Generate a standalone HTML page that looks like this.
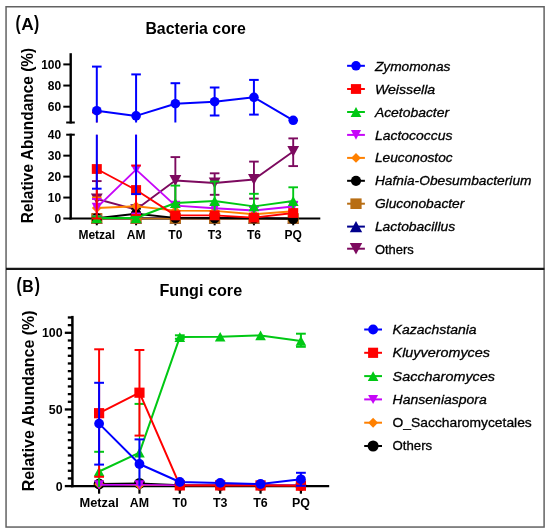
<!DOCTYPE html>
<html lang="en">
<head>
<meta charset="utf-8">
<title>Bacteria core / Fungi core relative abundance</title>
<style>
html,body{margin:0;padding:0;background:#fff;}
body{width:550px;height:532px;overflow:hidden;}
svg{display:block;}
text{font-family:"Liberation Sans",sans-serif;}
</style>
</head>
<body>
<svg width="550" height="532" viewBox="0 0 550 532" font-family='&quot;Liberation Sans&quot;, sans-serif'>
<rect x="0" y="0" width="550" height="532" fill="#fff"/>
<rect x="6.05" y="6.75" width="538.05" height="520.3" fill="none" stroke="#626262" stroke-width="1.5"/>
<line x1="6" y1="268.85" x2="544.4" y2="268.85" stroke="#161616" stroke-width="2.1" stroke-linecap="butt"/>
<text y="29.7" font-weight="bold" fill="#000"><tspan x="15.5" font-size="19.3" textLength="5.2" lengthAdjust="spacingAndGlyphs">(</tspan><tspan x="21.2" font-size="17.3">A</tspan><tspan x="34.1" font-size="19.3" textLength="5.2" lengthAdjust="spacingAndGlyphs">)</tspan></text>
<text x="195.6" y="33.6" font-size="16" font-weight="bold" font-style="normal" text-anchor="middle" fill="#000" textLength="100.4" lengthAdjust="spacingAndGlyphs">Bacteria core</text>
<text x="33.3" y="135.5" font-size="16.2" font-weight="bold" font-style="normal" text-anchor="middle" fill="#000" textLength="175.5" lengthAdjust="spacingAndGlyphs" transform="rotate(-90 33.3 135.5)">Relative Abundance (%)</text>
<line x1="70.7" y1="53.2" x2="70.7" y2="123.5" stroke="#000" stroke-width="2.4" stroke-linecap="butt"/>
<line x1="66.2" y1="122.5" x2="74.8" y2="122.5" stroke="#000" stroke-width="2" stroke-linecap="butt"/>
<line x1="70.7" y1="133.7" x2="70.7" y2="219.55" stroke="#000" stroke-width="2.4" stroke-linecap="butt"/>
<line x1="66.2" y1="134.7" x2="74.8" y2="134.7" stroke="#000" stroke-width="2" stroke-linecap="butt"/>
<line x1="63.3" y1="64.4" x2="70.7" y2="64.4" stroke="#000" stroke-width="2" stroke-linecap="butt"/>
<line x1="63.3" y1="85.55" x2="70.7" y2="85.55" stroke="#000" stroke-width="2" stroke-linecap="butt"/>
<line x1="63.3" y1="106.7" x2="70.7" y2="106.7" stroke="#000" stroke-width="2" stroke-linecap="butt"/>
<line x1="63.3" y1="155.65" x2="70.7" y2="155.65" stroke="#000" stroke-width="2" stroke-linecap="butt"/>
<line x1="63.3" y1="176.6" x2="70.7" y2="176.6" stroke="#000" stroke-width="2" stroke-linecap="butt"/>
<line x1="63.3" y1="197.55" x2="70.7" y2="197.55" stroke="#000" stroke-width="2" stroke-linecap="butt"/>
<line x1="63.3" y1="218.5" x2="70.7" y2="218.5" stroke="#000" stroke-width="2" stroke-linecap="butt"/>
<line x1="69.5" y1="218.5" x2="320.3" y2="218.5" stroke="#000" stroke-width="2.1" stroke-linecap="butt"/>
<line x1="96.8" y1="218.5" x2="96.8" y2="225.3" stroke="#000" stroke-width="2" stroke-linecap="butt"/>
<line x1="136.08" y1="218.5" x2="136.08" y2="225.3" stroke="#000" stroke-width="2" stroke-linecap="butt"/>
<line x1="175.36" y1="218.5" x2="175.36" y2="225.3" stroke="#000" stroke-width="2" stroke-linecap="butt"/>
<line x1="214.64" y1="218.5" x2="214.64" y2="225.3" stroke="#000" stroke-width="2" stroke-linecap="butt"/>
<line x1="253.92" y1="218.5" x2="253.92" y2="225.3" stroke="#000" stroke-width="2" stroke-linecap="butt"/>
<line x1="293.2" y1="218.5" x2="293.2" y2="225.3" stroke="#000" stroke-width="2" stroke-linecap="butt"/>
<g>
<line x1="96.8" y1="199" x2="96.8" y2="181.1" stroke="#7D0A5F" stroke-width="1.9" stroke-linecap="butt"/>
<line x1="92" y1="181.1" x2="101.6" y2="181.1" stroke="#7D0A5F" stroke-width="1.9" stroke-linecap="butt"/>
<line x1="96.8" y1="199" x2="96.8" y2="214" stroke="#7D0A5F" stroke-width="1.9" stroke-linecap="butt"/>
<line x1="92" y1="214" x2="101.6" y2="214" stroke="#7D0A5F" stroke-width="1.9" stroke-linecap="butt"/>
<line x1="136.08" y1="209.6" x2="136.08" y2="205.5" stroke="#7D0A5F" stroke-width="1.9" stroke-linecap="butt"/>
<line x1="131.28" y1="205.5" x2="140.88" y2="205.5" stroke="#7D0A5F" stroke-width="1.9" stroke-linecap="butt"/>
<line x1="136.08" y1="209.6" x2="136.08" y2="213.5" stroke="#7D0A5F" stroke-width="1.9" stroke-linecap="butt"/>
<line x1="131.28" y1="213.5" x2="140.88" y2="213.5" stroke="#7D0A5F" stroke-width="1.9" stroke-linecap="butt"/>
<line x1="175.36" y1="180.5" x2="175.36" y2="157.1" stroke="#7D0A5F" stroke-width="1.9" stroke-linecap="butt"/>
<line x1="170.56" y1="157.1" x2="180.16" y2="157.1" stroke="#7D0A5F" stroke-width="1.9" stroke-linecap="butt"/>
<line x1="175.36" y1="180.5" x2="175.36" y2="204.5" stroke="#7D0A5F" stroke-width="1.9" stroke-linecap="butt"/>
<line x1="170.56" y1="204.5" x2="180.16" y2="204.5" stroke="#7D0A5F" stroke-width="1.9" stroke-linecap="butt"/>
<line x1="214.64" y1="183" x2="214.64" y2="173.3" stroke="#7D0A5F" stroke-width="1.9" stroke-linecap="butt"/>
<line x1="209.84" y1="173.3" x2="219.44" y2="173.3" stroke="#7D0A5F" stroke-width="1.9" stroke-linecap="butt"/>
<line x1="214.64" y1="183" x2="214.64" y2="194.8" stroke="#7D0A5F" stroke-width="1.9" stroke-linecap="butt"/>
<line x1="209.84" y1="194.8" x2="219.44" y2="194.8" stroke="#7D0A5F" stroke-width="1.9" stroke-linecap="butt"/>
<line x1="253.92" y1="179.5" x2="253.92" y2="161.6" stroke="#7D0A5F" stroke-width="1.9" stroke-linecap="butt"/>
<line x1="249.12" y1="161.6" x2="258.72" y2="161.6" stroke="#7D0A5F" stroke-width="1.9" stroke-linecap="butt"/>
<line x1="253.92" y1="179.5" x2="253.92" y2="198.6" stroke="#7D0A5F" stroke-width="1.9" stroke-linecap="butt"/>
<line x1="249.12" y1="198.6" x2="258.72" y2="198.6" stroke="#7D0A5F" stroke-width="1.9" stroke-linecap="butt"/>
<line x1="293.2" y1="151.4" x2="293.2" y2="138.4" stroke="#7D0A5F" stroke-width="1.9" stroke-linecap="butt"/>
<line x1="288.4" y1="138.4" x2="298" y2="138.4" stroke="#7D0A5F" stroke-width="1.9" stroke-linecap="butt"/>
<line x1="293.2" y1="151.4" x2="293.2" y2="166.1" stroke="#7D0A5F" stroke-width="1.9" stroke-linecap="butt"/>
<line x1="288.4" y1="166.1" x2="298" y2="166.1" stroke="#7D0A5F" stroke-width="1.9" stroke-linecap="butt"/>
<polyline points="96.8,199 136.08,209.6 175.36,180.5 214.64,183 253.92,179.5 293.2,151.4" fill="none" stroke="#7D0A5F" stroke-width="1.9" stroke-linejoin="round"/>
<polygon points="90.9,193.6 102.7,193.6 96.8,204.4" fill="#7D0A5F"/>
<polygon points="130.18,204.2 141.98,204.2 136.08,215" fill="#7D0A5F"/>
<polygon points="169.46,175.1 181.26,175.1 175.36,185.9" fill="#7D0A5F"/>
<polygon points="208.74,177.6 220.54,177.6 214.64,188.4" fill="#7D0A5F"/>
<polygon points="248.02,174.1 259.82,174.1 253.92,184.9" fill="#7D0A5F"/>
<polygon points="287.3,146 299.1,146 293.2,156.8" fill="#7D0A5F"/>
</g>
<g>
<polyline points="96.8,218.3 136.08,218.3 175.36,218.3 214.64,218.3 253.92,218.3 293.2,218.3" fill="none" stroke="#00008C" stroke-width="1.9" stroke-linejoin="round"/>
<polygon points="96.8,212.9 102.6,223.7 91,223.7" fill="#00008C"/>
<polygon points="136.08,212.9 141.88,223.7 130.28,223.7" fill="#00008C"/>
<polygon points="175.36,212.9 181.16,223.7 169.56,223.7" fill="#00008C"/>
<polygon points="214.64,212.9 220.44,223.7 208.84,223.7" fill="#00008C"/>
<polygon points="253.92,212.9 259.72,223.7 248.12,223.7" fill="#00008C"/>
<polygon points="293.2,212.9 299,223.7 287.4,223.7" fill="#00008C"/>
</g>
<g>
<polyline points="96.8,218.5 136.08,218.5 175.36,218.5 214.64,218.5 253.92,218.5 293.2,218.5" fill="none" stroke="#B86E14" stroke-width="1.9" stroke-linejoin="round"/>
<rect x="91.2" y="213.2" width="11.2" height="10.6" fill="#B86E14"/>
<rect x="130.48" y="213.2" width="11.2" height="10.6" fill="#B86E14"/>
<rect x="169.76" y="213.2" width="11.2" height="10.6" fill="#B86E14"/>
<rect x="209.04" y="213.2" width="11.2" height="10.6" fill="#B86E14"/>
<rect x="248.32" y="213.2" width="11.2" height="10.6" fill="#B86E14"/>
<rect x="287.6" y="213.2" width="11.2" height="10.6" fill="#B86E14"/>
</g>
<g>
<line x1="136.08" y1="213.8" x2="136.08" y2="208.7" stroke="#000000" stroke-width="1.9" stroke-linecap="butt"/>
<line x1="131.28" y1="208.7" x2="140.88" y2="208.7" stroke="#000000" stroke-width="1.9" stroke-linecap="butt"/>
<polyline points="96.8,218.3 136.08,213.8 175.36,217.9 214.64,218 253.92,218.3 293.2,218.8" fill="none" stroke="#000000" stroke-width="1.9" stroke-linejoin="round"/>
<circle cx="96.8" cy="218.3" r="5.2" fill="#000000"/>
<circle cx="136.08" cy="213.8" r="5.2" fill="#000000"/>
<circle cx="175.36" cy="217.9" r="5.2" fill="#000000"/>
<circle cx="214.64" cy="218" r="5.2" fill="#000000"/>
<circle cx="253.92" cy="218.3" r="5.2" fill="#000000"/>
<circle cx="293.2" cy="218.8" r="5.2" fill="#000000"/>
</g>
<g>
<line x1="96.8" y1="208" x2="96.8" y2="197.5" stroke="#FF8000" stroke-width="1.9" stroke-linecap="butt"/>
<line x1="92" y1="197.5" x2="101.6" y2="197.5" stroke="#FF8000" stroke-width="1.9" stroke-linecap="butt"/>
<line x1="96.8" y1="208" x2="96.8" y2="216.5" stroke="#FF8000" stroke-width="1.9" stroke-linecap="butt"/>
<line x1="92" y1="216.5" x2="101.6" y2="216.5" stroke="#FF8000" stroke-width="1.9" stroke-linecap="butt"/>
<polyline points="96.8,208 136.08,206.2 175.36,210.6 214.64,210.9 253.92,214.2 293.2,211.3" fill="none" stroke="#FF8000" stroke-width="1.9" stroke-linejoin="round"/>
<polygon points="96.8,203.1 101.7,208 96.8,212.9 91.9,208" fill="#FF8000"/>
<polygon points="136.08,201.3 140.98,206.2 136.08,211.1 131.18,206.2" fill="#FF8000"/>
<polygon points="175.36,205.7 180.26,210.6 175.36,215.5 170.46,210.6" fill="#FF8000"/>
<polygon points="214.64,206 219.54,210.9 214.64,215.8 209.74,210.9" fill="#FF8000"/>
<polygon points="253.92,209.3 258.82,214.2 253.92,219.1 249.02,214.2" fill="#FF8000"/>
<polygon points="293.2,206.4 298.1,211.3 293.2,216.2 288.3,211.3" fill="#FF8000"/>
</g>
<g>
<line x1="96.8" y1="207.6" x2="96.8" y2="199" stroke="#C606F8" stroke-width="1.9" stroke-linecap="butt"/>
<line x1="92" y1="199" x2="101.6" y2="199" stroke="#C606F8" stroke-width="1.9" stroke-linecap="butt"/>
<line x1="96.8" y1="207.6" x2="96.8" y2="216" stroke="#C606F8" stroke-width="1.9" stroke-linecap="butt"/>
<line x1="92" y1="216" x2="101.6" y2="216" stroke="#C606F8" stroke-width="1.9" stroke-linecap="butt"/>
<line x1="136.08" y1="169.6" x2="136.08" y2="134.7" stroke="#C606F8" stroke-width="1.9" stroke-linecap="butt"/>
<line x1="136.08" y1="169.6" x2="136.08" y2="213.5" stroke="#C606F8" stroke-width="1.9" stroke-linecap="butt"/>
<line x1="131.28" y1="213.5" x2="140.88" y2="213.5" stroke="#C606F8" stroke-width="1.9" stroke-linecap="butt"/>
<line x1="253.92" y1="210.5" x2="253.92" y2="207" stroke="#C606F8" stroke-width="1.9" stroke-linecap="butt"/>
<line x1="249.12" y1="207" x2="258.72" y2="207" stroke="#C606F8" stroke-width="1.9" stroke-linecap="butt"/>
<line x1="293.2" y1="206.5" x2="293.2" y2="201.8" stroke="#C606F8" stroke-width="1.9" stroke-linecap="butt"/>
<line x1="288.4" y1="201.8" x2="298" y2="201.8" stroke="#C606F8" stroke-width="1.9" stroke-linecap="butt"/>
<line x1="293.2" y1="206.5" x2="293.2" y2="211" stroke="#C606F8" stroke-width="1.9" stroke-linecap="butt"/>
<line x1="288.4" y1="211" x2="298" y2="211" stroke="#C606F8" stroke-width="1.9" stroke-linecap="butt"/>
<polyline points="96.8,207.6 136.08,169.6 175.36,205.6 214.64,208.3 253.92,210.5 293.2,206.5" fill="none" stroke="#C606F8" stroke-width="1.9" stroke-linejoin="round"/>
<polygon points="91.7,202.7 101.9,202.7 96.8,212.5" fill="#C606F8"/>
<polygon points="130.98,164.7 141.18,164.7 136.08,174.5" fill="#C606F8"/>
<polygon points="170.26,200.7 180.46,200.7 175.36,210.5" fill="#C606F8"/>
<polygon points="209.54,203.4 219.74,203.4 214.64,213.2" fill="#C606F8"/>
<polygon points="248.82,205.6 259.02,205.6 253.92,215.4" fill="#C606F8"/>
<polygon points="288.1,201.6 298.3,201.6 293.2,211.4" fill="#C606F8"/>
</g>
<g>
<line x1="96.8" y1="218" x2="96.8" y2="216.3" stroke="#00C814" stroke-width="1.9" stroke-linecap="butt"/>
<line x1="92" y1="216.3" x2="101.6" y2="216.3" stroke="#00C814" stroke-width="1.9" stroke-linecap="butt"/>
<line x1="136.08" y1="218" x2="136.08" y2="216.6" stroke="#00C814" stroke-width="1.9" stroke-linecap="butt"/>
<line x1="131.28" y1="216.6" x2="140.88" y2="216.6" stroke="#00C814" stroke-width="1.9" stroke-linecap="butt"/>
<line x1="175.36" y1="203" x2="175.36" y2="185.6" stroke="#00C814" stroke-width="1.9" stroke-linecap="butt"/>
<line x1="170.56" y1="185.6" x2="180.16" y2="185.6" stroke="#00C814" stroke-width="1.9" stroke-linecap="butt"/>
<line x1="175.36" y1="203" x2="175.36" y2="218.5" stroke="#00C814" stroke-width="1.9" stroke-linecap="butt"/>
<line x1="214.64" y1="201" x2="214.64" y2="181.5" stroke="#00C814" stroke-width="1.9" stroke-linecap="butt"/>
<line x1="209.84" y1="181.5" x2="219.44" y2="181.5" stroke="#00C814" stroke-width="1.9" stroke-linecap="butt"/>
<line x1="214.64" y1="201" x2="214.64" y2="218.5" stroke="#00C814" stroke-width="1.9" stroke-linecap="butt"/>
<line x1="253.92" y1="206.4" x2="253.92" y2="193.8" stroke="#00C814" stroke-width="1.9" stroke-linecap="butt"/>
<line x1="249.12" y1="193.8" x2="258.72" y2="193.8" stroke="#00C814" stroke-width="1.9" stroke-linecap="butt"/>
<line x1="253.92" y1="206.4" x2="253.92" y2="218.5" stroke="#00C814" stroke-width="1.9" stroke-linecap="butt"/>
<line x1="293.2" y1="201" x2="293.2" y2="187.3" stroke="#00C814" stroke-width="1.9" stroke-linecap="butt"/>
<line x1="288.4" y1="187.3" x2="298" y2="187.3" stroke="#00C814" stroke-width="1.9" stroke-linecap="butt"/>
<line x1="293.2" y1="201" x2="293.2" y2="215" stroke="#00C814" stroke-width="1.9" stroke-linecap="butt"/>
<line x1="288.4" y1="215" x2="298" y2="215" stroke="#00C814" stroke-width="1.9" stroke-linecap="butt"/>
<polyline points="96.8,218 136.08,218 175.36,203 214.64,201 253.92,206.4 293.2,201" fill="none" stroke="#00C814" stroke-width="1.9" stroke-linejoin="round"/>
<polygon points="96.8,213.1 102.2,222.9 91.4,222.9" fill="#00C814"/>
<polygon points="136.08,213.1 141.48,222.9 130.68,222.9" fill="#00C814"/>
<polygon points="175.36,198.1 180.76,207.9 169.96,207.9" fill="#00C814"/>
<polygon points="214.64,196.1 220.04,205.9 209.24,205.9" fill="#00C814"/>
<polygon points="253.92,201.5 259.32,211.3 248.52,211.3" fill="#00C814"/>
<polygon points="293.2,196.1 298.6,205.9 287.8,205.9" fill="#00C814"/>
</g>
<g>
<line x1="96.8" y1="169" x2="96.8" y2="134.7" stroke="#FF0000" stroke-width="1.3" stroke-linecap="butt"/>
<line x1="96.8" y1="122.5" x2="96.8" y2="112.4" stroke="#FF0000" stroke-width="1.3" stroke-linecap="butt"/>
<line x1="92" y1="112.4" x2="101.6" y2="112.4" stroke="#FF0000" stroke-width="1.9" stroke-linecap="butt"/>
<line x1="96.8" y1="169" x2="96.8" y2="218.5" stroke="#FF0000" stroke-width="1.9" stroke-linecap="butt"/>
<line x1="92" y1="218.5" x2="101.6" y2="218.5" stroke="#FF0000" stroke-width="1.9" stroke-linecap="butt"/>
<line x1="136.08" y1="190" x2="136.08" y2="165.6" stroke="#FF0000" stroke-width="1.9" stroke-linecap="butt"/>
<line x1="131.28" y1="165.6" x2="140.88" y2="165.6" stroke="#FF0000" stroke-width="1.9" stroke-linecap="butt"/>
<line x1="136.08" y1="190" x2="136.08" y2="215" stroke="#FF0000" stroke-width="1.9" stroke-linecap="butt"/>
<line x1="131.28" y1="215" x2="140.88" y2="215" stroke="#FF0000" stroke-width="1.9" stroke-linecap="butt"/>
<polyline points="96.8,169 136.08,190 175.36,215.4 214.64,215.4 253.92,217.6 293.2,213" fill="none" stroke="#FF0000" stroke-width="1.9" stroke-linejoin="round"/>
<rect x="91.8" y="164.1" width="10" height="9.8" fill="#FF0000"/>
<rect x="131.08" y="185.1" width="10" height="9.8" fill="#FF0000"/>
<rect x="170.36" y="210.5" width="10" height="9.8" fill="#FF0000"/>
<rect x="209.64" y="210.5" width="10" height="9.8" fill="#FF0000"/>
<rect x="248.92" y="212.7" width="10" height="9.8" fill="#FF0000"/>
<rect x="288.2" y="208.1" width="10" height="9.8" fill="#FF0000"/>
</g>
<g>
<line x1="96.8" y1="110.7" x2="96.8" y2="66.6" stroke="#0000FF" stroke-width="2" stroke-linecap="butt"/>
<line x1="92" y1="66.6" x2="101.6" y2="66.6" stroke="#0000FF" stroke-width="2" stroke-linecap="butt"/>
<line x1="96.8" y1="110.7" x2="96.8" y2="122.5" stroke="#0000FF" stroke-width="2" stroke-linecap="butt"/>
<line x1="96.8" y1="134.7" x2="96.8" y2="188.7" stroke="#0000FF" stroke-width="2" stroke-linecap="butt"/>
<line x1="92" y1="188.7" x2="101.6" y2="188.7" stroke="#0000FF" stroke-width="2" stroke-linecap="butt"/>
<line x1="136.08" y1="115.9" x2="136.08" y2="74.4" stroke="#0000FF" stroke-width="2" stroke-linecap="butt"/>
<line x1="131.28" y1="74.4" x2="140.88" y2="74.4" stroke="#0000FF" stroke-width="2" stroke-linecap="butt"/>
<line x1="136.08" y1="115.9" x2="136.08" y2="122.5" stroke="#0000FF" stroke-width="2" stroke-linecap="butt"/>
<line x1="136.08" y1="134.7" x2="136.08" y2="194.1" stroke="#0000FF" stroke-width="2" stroke-linecap="butt"/>
<line x1="131.28" y1="194.1" x2="140.88" y2="194.1" stroke="#0000FF" stroke-width="2" stroke-linecap="butt"/>
<line x1="175.36" y1="103.7" x2="175.36" y2="83.2" stroke="#0000FF" stroke-width="2" stroke-linecap="butt"/>
<line x1="170.56" y1="83.2" x2="180.16" y2="83.2" stroke="#0000FF" stroke-width="2" stroke-linecap="butt"/>
<line x1="175.36" y1="103.7" x2="175.36" y2="122.5" stroke="#0000FF" stroke-width="2" stroke-linecap="butt"/>
<line x1="214.64" y1="101.7" x2="214.64" y2="87.5" stroke="#0000FF" stroke-width="2" stroke-linecap="butt"/>
<line x1="209.84" y1="87.5" x2="219.44" y2="87.5" stroke="#0000FF" stroke-width="2" stroke-linecap="butt"/>
<line x1="214.64" y1="101.7" x2="214.64" y2="115.5" stroke="#0000FF" stroke-width="2" stroke-linecap="butt"/>
<line x1="209.84" y1="115.5" x2="219.44" y2="115.5" stroke="#0000FF" stroke-width="2" stroke-linecap="butt"/>
<line x1="253.92" y1="97.3" x2="253.92" y2="79.9" stroke="#0000FF" stroke-width="2" stroke-linecap="butt"/>
<line x1="249.12" y1="79.9" x2="258.72" y2="79.9" stroke="#0000FF" stroke-width="2" stroke-linecap="butt"/>
<line x1="253.92" y1="97.3" x2="253.92" y2="114.6" stroke="#0000FF" stroke-width="2" stroke-linecap="butt"/>
<line x1="249.12" y1="114.6" x2="258.72" y2="114.6" stroke="#0000FF" stroke-width="2" stroke-linecap="butt"/>
<polyline points="96.8,110.7 136.08,115.9 175.36,103.7 214.64,101.7 253.92,97.3 293.2,120.3" fill="none" stroke="#0000FF" stroke-width="2" stroke-linejoin="round"/>
<circle cx="96.8" cy="110.7" r="4.8" fill="#0000FF"/>
<circle cx="136.08" cy="115.9" r="4.8" fill="#0000FF"/>
<circle cx="175.36" cy="103.7" r="4.8" fill="#0000FF"/>
<circle cx="214.64" cy="101.7" r="4.8" fill="#0000FF"/>
<circle cx="253.92" cy="97.3" r="4.8" fill="#0000FF"/>
<circle cx="293.2" cy="120.3" r="4.8" fill="#0000FF"/>
</g>
<text x="61.2" y="68.7" font-size="12" font-weight="bold" font-style="normal" text-anchor="end" fill="#000">100</text>
<text x="61.2" y="89.85" font-size="12" font-weight="bold" font-style="normal" text-anchor="end" fill="#000">80</text>
<text x="61.2" y="111" font-size="12" font-weight="bold" font-style="normal" text-anchor="end" fill="#000">60</text>
<text x="61.2" y="139" font-size="12" font-weight="bold" font-style="normal" text-anchor="end" fill="#000">40</text>
<text x="61.2" y="159.95" font-size="12" font-weight="bold" font-style="normal" text-anchor="end" fill="#000">30</text>
<text x="61.2" y="180.9" font-size="12" font-weight="bold" font-style="normal" text-anchor="end" fill="#000">20</text>
<text x="61.2" y="201.85" font-size="12" font-weight="bold" font-style="normal" text-anchor="end" fill="#000">10</text>
<text x="61.2" y="222.8" font-size="12" font-weight="bold" font-style="normal" text-anchor="end" fill="#000">0</text>
<text x="96.8" y="238.5" font-size="12" font-weight="bold" font-style="normal" text-anchor="middle" fill="#000">Metzal</text>
<text x="136.08" y="238.5" font-size="12" font-weight="bold" font-style="normal" text-anchor="middle" fill="#000">AM</text>
<text x="175.36" y="238.5" font-size="12" font-weight="bold" font-style="normal" text-anchor="middle" fill="#000">T0</text>
<text x="214.64" y="238.5" font-size="12" font-weight="bold" font-style="normal" text-anchor="middle" fill="#000">T3</text>
<text x="253.92" y="238.5" font-size="12" font-weight="bold" font-style="normal" text-anchor="middle" fill="#000">T6</text>
<text x="293.2" y="238.5" font-size="12" font-weight="bold" font-style="normal" text-anchor="middle" fill="#000">PQ</text>
<line x1="347.1" y1="65.8" x2="364.9" y2="65.8" stroke="#0000FF" stroke-width="2" stroke-linecap="butt"/>
<circle cx="356" cy="65.8" r="4.8" fill="#0000FF"/>
<text stroke="#000" stroke-width="0.3" x="374.9" y="70.9" font-size="13.2" font-weight="normal" font-style="italic" text-anchor="start" fill="#000" textLength="75.5" lengthAdjust="spacingAndGlyphs">Zymomonas</text>
<line x1="347.1" y1="89" x2="364.9" y2="89" stroke="#FF0000" stroke-width="2" stroke-linecap="butt"/>
<rect x="350.9" y="84.1" width="10.2" height="9.8" fill="#FF0000"/>
<text stroke="#000" stroke-width="0.3" x="374.9" y="94.1" font-size="13.2" font-weight="normal" font-style="italic" text-anchor="start" fill="#000" textLength="60.27" lengthAdjust="spacingAndGlyphs">Weissella</text>
<line x1="347.1" y1="112" x2="364.9" y2="112" stroke="#00C814" stroke-width="2" stroke-linecap="butt"/>
<polygon points="356,107.1 361.4,116.9 350.6,116.9" fill="#00C814"/>
<text stroke="#000" stroke-width="0.3" x="374.9" y="117" font-size="13.2" font-weight="normal" font-style="italic" text-anchor="start" fill="#000" textLength="74.21" lengthAdjust="spacingAndGlyphs">Acetobacter</text>
<line x1="347.1" y1="134.9" x2="364.9" y2="134.9" stroke="#C606F8" stroke-width="2" stroke-linecap="butt"/>
<polygon points="350.9,130 361.1,130 356,139.8" fill="#C606F8"/>
<text stroke="#000" stroke-width="0.3" x="374.9" y="139.9" font-size="13.2" font-weight="normal" font-style="italic" text-anchor="start" fill="#000" textLength="77.56" lengthAdjust="spacingAndGlyphs">Lactococcus</text>
<line x1="347.1" y1="157.9" x2="364.9" y2="157.9" stroke="#FF8000" stroke-width="2" stroke-linecap="butt"/>
<polygon points="356,153 360.9,157.9 356,162.8 351.1,157.9" fill="#FF8000"/>
<text stroke="#000" stroke-width="0.3" x="374.9" y="162" font-size="13.2" font-weight="normal" font-style="italic" text-anchor="start" fill="#000" textLength="77.78" lengthAdjust="spacingAndGlyphs">Leuconostoc</text>
<line x1="347.1" y1="180.8" x2="364.9" y2="180.8" stroke="#000000" stroke-width="2" stroke-linecap="butt"/>
<circle cx="356" cy="180.8" r="5.1" fill="#000000"/>
<text stroke="#000" stroke-width="0.3" x="374.9" y="184.9" font-size="13.2" font-weight="normal" font-style="italic" text-anchor="start" fill="#000" textLength="156.6" lengthAdjust="spacingAndGlyphs">Hafnia-Obesumbacterium</text>
<line x1="347.1" y1="203.7" x2="364.9" y2="203.7" stroke="#B86E14" stroke-width="2" stroke-linecap="butt"/>
<rect x="350.4" y="198.4" width="11.2" height="10.6" fill="#B86E14"/>
<text stroke="#000" stroke-width="0.3" x="374.9" y="207.8" font-size="13.2" font-weight="normal" font-style="italic" text-anchor="start" fill="#000" textLength="89.43" lengthAdjust="spacingAndGlyphs">Gluconobacter</text>
<line x1="347.1" y1="226.6" x2="364.9" y2="226.6" stroke="#00008C" stroke-width="2" stroke-linecap="butt"/>
<polygon points="356,220.95 362.2,232.25 349.8,232.25" fill="#00008C"/>
<text stroke="#000" stroke-width="0.3" x="374.9" y="230.7" font-size="13.2" font-weight="normal" font-style="italic" text-anchor="start" fill="#000" textLength="80.28" lengthAdjust="spacingAndGlyphs">Lactobacillus</text>
<line x1="347.1" y1="248.7" x2="364.9" y2="248.7" stroke="#7D0A5F" stroke-width="2" stroke-linecap="butt"/>
<polygon points="349.8,242.9 362.2,242.9 356,254.5" fill="#7D0A5F"/>
<text stroke="#000" stroke-width="0.3" x="374.9" y="253.5" font-size="12.8" font-weight="normal" font-style="normal" text-anchor="start" fill="#000" textLength="38.81" lengthAdjust="spacingAndGlyphs">Others</text>
<text y="291.7" font-weight="bold" fill="#000"><tspan x="16.4" font-size="19.3" textLength="5.2" lengthAdjust="spacingAndGlyphs">(</tspan><tspan x="22.3" font-size="17.3" textLength="11.4" lengthAdjust="spacingAndGlyphs">B</tspan><tspan x="34.8" font-size="19.3" textLength="5.2" lengthAdjust="spacingAndGlyphs">)</tspan></text>
<text x="200.8" y="295.8" font-size="16.2" font-weight="bold" font-style="normal" text-anchor="middle" fill="#000" textLength="82.7" lengthAdjust="spacingAndGlyphs">Fungi core</text>
<text x="33.6" y="400.9" font-size="16.7" font-weight="bold" font-style="normal" text-anchor="middle" fill="#000" textLength="180.8" lengthAdjust="spacingAndGlyphs" transform="rotate(-90 33.6 400.9)">Relative Abundance (%)</text>
<line x1="71.15" y1="486.1" x2="329.2" y2="486.1" stroke="#000" stroke-width="2.4" stroke-linecap="butt"/>
<line x1="99.1" y1="486.1" x2="99.1" y2="493.7" stroke="#000" stroke-width="2.2" stroke-linecap="butt"/>
<line x1="139.46" y1="486.1" x2="139.46" y2="493.7" stroke="#000" stroke-width="2.2" stroke-linecap="butt"/>
<line x1="179.82" y1="486.1" x2="179.82" y2="493.7" stroke="#000" stroke-width="2.2" stroke-linecap="butt"/>
<line x1="220.18" y1="486.1" x2="220.18" y2="493.7" stroke="#000" stroke-width="2.2" stroke-linecap="butt"/>
<line x1="260.54" y1="486.1" x2="260.54" y2="493.7" stroke="#000" stroke-width="2.2" stroke-linecap="butt"/>
<line x1="300.9" y1="486.1" x2="300.9" y2="493.7" stroke="#000" stroke-width="2.2" stroke-linecap="butt"/>
<g>
<polyline points="99.1,484 139.46,483.4 179.82,485.2 220.18,485.3 260.54,485.3 300.9,485.4" fill="none" stroke="#000000" stroke-width="2" stroke-linejoin="round"/>
<circle cx="99.1" cy="484" r="5.45" fill="#000000"/>
<circle cx="139.46" cy="483.4" r="5.45" fill="#000000"/>
<circle cx="179.82" cy="485.2" r="5.45" fill="#000000"/>
<circle cx="220.18" cy="485.3" r="5.45" fill="#000000"/>
<circle cx="260.54" cy="485.3" r="5.45" fill="#000000"/>
<circle cx="300.9" cy="485.4" r="5.45" fill="#000000"/>
</g>
<g>
<polyline points="99.1,484.2 139.46,485.3 179.82,485.4 220.18,485.4 260.54,485.4 300.9,485.4" fill="none" stroke="#FF8000" stroke-width="1" stroke-linejoin="round"/>
<polygon points="99.1,479.4 103.9,484.2 99.1,489 94.3,484.2" fill="#FF8000"/>
<polygon points="139.46,480.5 144.26,485.3 139.46,490.1 134.66,485.3" fill="#FF8000"/>
<polygon points="179.82,480.6 184.62,485.4 179.82,490.2 175.02,485.4" fill="#FF8000"/>
<polygon points="220.18,480.6 224.98,485.4 220.18,490.2 215.38,485.4" fill="#FF8000"/>
<polygon points="260.54,480.6 265.34,485.4 260.54,490.2 255.74,485.4" fill="#FF8000"/>
<polygon points="300.9,480.6 305.7,485.4 300.9,490.2 296.1,485.4" fill="#FF8000"/>
</g>
<g>
<polyline points="99.1,484.9 139.46,484.8 179.82,485.2 220.18,485.3 260.54,485.3 300.9,485.3" fill="none" stroke="#C606F8" stroke-width="1.6" stroke-linejoin="round"/>
<polygon points="94.1,480.3 104.1,480.3 99.1,489.5" fill="#C606F8"/>
<polygon points="134.46,480.2 144.46,480.2 139.46,489.4" fill="#C606F8"/>
<polygon points="174.82,480.6 184.82,480.6 179.82,489.8" fill="#C606F8"/>
<polygon points="215.18,480.7 225.18,480.7 220.18,489.9" fill="#C606F8"/>
<polygon points="255.54,480.7 265.54,480.7 260.54,489.9" fill="#C606F8"/>
<polygon points="295.9,480.7 305.9,480.7 300.9,489.9" fill="#C606F8"/>
</g>
<g>
<line x1="99.1" y1="471.5" x2="99.1" y2="451.8" stroke="#00C814" stroke-width="1.3" stroke-linecap="butt"/>
<line x1="94.2" y1="451.8" x2="104" y2="451.8" stroke="#00C814" stroke-width="2" stroke-linecap="butt"/>
<line x1="99.1" y1="471.5" x2="99.1" y2="477" stroke="#00C814" stroke-width="1.3" stroke-linecap="butt"/>
<line x1="99.1" y1="477" x2="99.1" y2="487" stroke="#00C814" stroke-width="2" stroke-linecap="butt"/>
<line x1="139.46" y1="452.6" x2="139.46" y2="403.9" stroke="#00C814" stroke-width="1.3" stroke-linecap="butt"/>
<line x1="134.56" y1="403.9" x2="144.36" y2="403.9" stroke="#00C814" stroke-width="2" stroke-linecap="butt"/>
<line x1="139.46" y1="452.6" x2="139.46" y2="485.6" stroke="#00C814" stroke-width="1.3" stroke-linecap="butt"/>
<line x1="179.82" y1="337.1" x2="179.82" y2="335.3" stroke="#00C814" stroke-width="2" stroke-linecap="butt"/>
<line x1="174.92" y1="335.3" x2="184.72" y2="335.3" stroke="#00C814" stroke-width="2" stroke-linecap="butt"/>
<line x1="179.82" y1="337.1" x2="179.82" y2="338.8" stroke="#00C814" stroke-width="2" stroke-linecap="butt"/>
<line x1="174.92" y1="338.8" x2="184.72" y2="338.8" stroke="#00C814" stroke-width="2" stroke-linecap="butt"/>
<line x1="300.9" y1="340.9" x2="300.9" y2="333.7" stroke="#00C814" stroke-width="2" stroke-linecap="butt"/>
<line x1="296" y1="333.7" x2="305.8" y2="333.7" stroke="#00C814" stroke-width="2" stroke-linecap="butt"/>
<line x1="300.9" y1="340.9" x2="300.9" y2="346.8" stroke="#00C814" stroke-width="2" stroke-linecap="butt"/>
<line x1="296" y1="346.8" x2="305.8" y2="346.8" stroke="#00C814" stroke-width="2" stroke-linecap="butt"/>
<polyline points="99.1,471.5 139.46,452.6 179.82,337.1 220.18,336.7 260.54,335.4 300.9,340.9" fill="none" stroke="#00C814" stroke-width="2" stroke-linejoin="round"/>
<polygon points="99.1,466.7 104.4,476.3 93.8,476.3" fill="#00C814"/>
<polygon points="139.46,447.8 144.76,457.4 134.16,457.4" fill="#00C814"/>
<polygon points="179.82,332.3 185.12,341.9 174.52,341.9" fill="#00C814"/>
<polygon points="220.18,331.9 225.48,341.5 214.88,341.5" fill="#00C814"/>
<polygon points="260.54,330.6 265.84,340.2 255.24,340.2" fill="#00C814"/>
<polygon points="300.9,336.1 306.2,345.7 295.6,345.7" fill="#00C814"/>
</g>
<g>
<line x1="99.1" y1="413.2" x2="99.1" y2="349.3" stroke="#FF0000" stroke-width="2" stroke-linecap="butt"/>
<line x1="94.2" y1="349.3" x2="104" y2="349.3" stroke="#FF0000" stroke-width="2" stroke-linecap="butt"/>
<line x1="99.1" y1="413.2" x2="99.1" y2="476.8" stroke="#FF0000" stroke-width="2" stroke-linecap="butt"/>
<line x1="94.2" y1="476.8" x2="104" y2="476.8" stroke="#FF0000" stroke-width="2" stroke-linecap="butt"/>
<line x1="139.46" y1="392.7" x2="139.46" y2="350" stroke="#FF0000" stroke-width="2" stroke-linecap="butt"/>
<line x1="134.56" y1="350" x2="144.36" y2="350" stroke="#FF0000" stroke-width="2" stroke-linecap="butt"/>
<line x1="139.46" y1="392.7" x2="139.46" y2="435.6" stroke="#FF0000" stroke-width="2" stroke-linecap="butt"/>
<line x1="134.56" y1="435.6" x2="144.36" y2="435.6" stroke="#FF0000" stroke-width="2" stroke-linecap="butt"/>
<polyline points="99.1,413.2 139.46,392.7 179.82,485.4 220.18,485.4 260.54,485.5 300.9,485.7" fill="none" stroke="#FF0000" stroke-width="2" stroke-linejoin="round"/>
<rect x="94" y="408.1" width="10.2" height="10.2" fill="#FF0000"/>
<rect x="134.36" y="387.6" width="10.2" height="10.2" fill="#FF0000"/>
<rect x="174.72" y="480.3" width="10.2" height="10.2" fill="#FF0000"/>
<rect x="215.08" y="480.3" width="10.2" height="10.2" fill="#FF0000"/>
<rect x="255.44" y="480.4" width="10.2" height="10.2" fill="#FF0000"/>
<rect x="295.8" y="480.6" width="10.2" height="10.2" fill="#FF0000"/>
</g>
<g>
<line x1="99.1" y1="423.6" x2="99.1" y2="382.8" stroke="#0000FF" stroke-width="2" stroke-linecap="butt"/>
<line x1="94.2" y1="382.8" x2="104" y2="382.8" stroke="#0000FF" stroke-width="2" stroke-linecap="butt"/>
<line x1="99.1" y1="423.6" x2="99.1" y2="464.6" stroke="#0000FF" stroke-width="2" stroke-linecap="butt"/>
<line x1="94.2" y1="464.6" x2="104" y2="464.6" stroke="#0000FF" stroke-width="2" stroke-linecap="butt"/>
<line x1="139.46" y1="464" x2="139.46" y2="439.4" stroke="#0000FF" stroke-width="2" stroke-linecap="butt"/>
<line x1="134.56" y1="439.4" x2="144.36" y2="439.4" stroke="#0000FF" stroke-width="2" stroke-linecap="butt"/>
<line x1="139.46" y1="464" x2="139.46" y2="485.6" stroke="#0000FF" stroke-width="2" stroke-linecap="butt"/>
<line x1="300.9" y1="479.3" x2="300.9" y2="472.8" stroke="#0000FF" stroke-width="2" stroke-linecap="butt"/>
<line x1="296" y1="472.8" x2="305.8" y2="472.8" stroke="#0000FF" stroke-width="2" stroke-linecap="butt"/>
<line x1="300.9" y1="479.3" x2="300.9" y2="485.8" stroke="#0000FF" stroke-width="2" stroke-linecap="butt"/>
<line x1="296" y1="485.8" x2="305.8" y2="485.8" stroke="#0000FF" stroke-width="2" stroke-linecap="butt"/>
<polyline points="99.1,423.6 139.46,464 179.82,482 220.18,482.9 260.54,484 300.9,479.3" fill="none" stroke="#0000FF" stroke-width="2" stroke-linejoin="round"/>
<circle cx="99.1" cy="423.6" r="4.9" fill="#0000FF"/>
<circle cx="139.46" cy="464" r="4.9" fill="#0000FF"/>
<circle cx="179.82" cy="482" r="4.9" fill="#0000FF"/>
<circle cx="220.18" cy="482.9" r="4.9" fill="#0000FF"/>
<circle cx="260.54" cy="484" r="4.9" fill="#0000FF"/>
<circle cx="300.9" cy="479.3" r="4.9" fill="#0000FF"/>
</g>
<line x1="72.4" y1="315.9" x2="72.4" y2="487.3" stroke="#000" stroke-width="2.5" stroke-linecap="butt"/>
<line x1="64.8" y1="486.1" x2="72.4" y2="486.1" stroke="#000" stroke-width="2.3" stroke-linecap="butt"/>
<line x1="67.8" y1="478.44" x2="72.4" y2="478.44" stroke="#000" stroke-width="2.3" stroke-linecap="butt"/>
<line x1="67.8" y1="470.77" x2="72.4" y2="470.77" stroke="#000" stroke-width="2.3" stroke-linecap="butt"/>
<line x1="67.8" y1="463.11" x2="72.4" y2="463.11" stroke="#000" stroke-width="2.3" stroke-linecap="butt"/>
<line x1="67.8" y1="455.44" x2="72.4" y2="455.44" stroke="#000" stroke-width="2.3" stroke-linecap="butt"/>
<line x1="67.8" y1="447.78" x2="72.4" y2="447.78" stroke="#000" stroke-width="2.3" stroke-linecap="butt"/>
<line x1="67.8" y1="440.11" x2="72.4" y2="440.11" stroke="#000" stroke-width="2.3" stroke-linecap="butt"/>
<line x1="67.8" y1="432.44" x2="72.4" y2="432.44" stroke="#000" stroke-width="2.3" stroke-linecap="butt"/>
<line x1="67.8" y1="424.78" x2="72.4" y2="424.78" stroke="#000" stroke-width="2.3" stroke-linecap="butt"/>
<line x1="67.8" y1="417.12" x2="72.4" y2="417.12" stroke="#000" stroke-width="2.3" stroke-linecap="butt"/>
<line x1="64.8" y1="409.45" x2="72.4" y2="409.45" stroke="#000" stroke-width="2.3" stroke-linecap="butt"/>
<line x1="67.8" y1="401.79" x2="72.4" y2="401.79" stroke="#000" stroke-width="2.3" stroke-linecap="butt"/>
<line x1="67.8" y1="394.12" x2="72.4" y2="394.12" stroke="#000" stroke-width="2.3" stroke-linecap="butt"/>
<line x1="67.8" y1="386.46" x2="72.4" y2="386.46" stroke="#000" stroke-width="2.3" stroke-linecap="butt"/>
<line x1="67.8" y1="378.79" x2="72.4" y2="378.79" stroke="#000" stroke-width="2.3" stroke-linecap="butt"/>
<line x1="67.8" y1="371.12" x2="72.4" y2="371.12" stroke="#000" stroke-width="2.3" stroke-linecap="butt"/>
<line x1="67.8" y1="363.46" x2="72.4" y2="363.46" stroke="#000" stroke-width="2.3" stroke-linecap="butt"/>
<line x1="67.8" y1="355.8" x2="72.4" y2="355.8" stroke="#000" stroke-width="2.3" stroke-linecap="butt"/>
<line x1="67.8" y1="348.13" x2="72.4" y2="348.13" stroke="#000" stroke-width="2.3" stroke-linecap="butt"/>
<line x1="67.8" y1="340.47" x2="72.4" y2="340.47" stroke="#000" stroke-width="2.3" stroke-linecap="butt"/>
<line x1="64.8" y1="332.8" x2="72.4" y2="332.8" stroke="#000" stroke-width="2.3" stroke-linecap="butt"/>
<line x1="67.8" y1="325.13" x2="72.4" y2="325.13" stroke="#000" stroke-width="2.3" stroke-linecap="butt"/>
<line x1="67.8" y1="317.47" x2="72.4" y2="317.47" stroke="#000" stroke-width="2.3" stroke-linecap="butt"/>
<text x="62.6" y="337.3" font-size="12.4" font-weight="bold" font-style="normal" text-anchor="end" fill="#000">100</text>
<text x="62.6" y="413.7" font-size="12.4" font-weight="bold" font-style="normal" text-anchor="end" fill="#000">50</text>
<text x="62.6" y="490.6" font-size="12.4" font-weight="bold" font-style="normal" text-anchor="end" fill="#000">0</text>
<text x="99.1" y="506.8" font-size="12.4" font-weight="bold" font-style="normal" text-anchor="middle" fill="#000" textLength="39.2" lengthAdjust="spacingAndGlyphs">Metzal</text>
<text x="139.46" y="506.8" font-size="12.4" font-weight="bold" font-style="normal" text-anchor="middle" fill="#000">AM</text>
<text x="179.82" y="506.8" font-size="12.4" font-weight="bold" font-style="normal" text-anchor="middle" fill="#000">T0</text>
<text x="220.18" y="506.8" font-size="12.4" font-weight="bold" font-style="normal" text-anchor="middle" fill="#000">T3</text>
<text x="260.54" y="506.8" font-size="12.4" font-weight="bold" font-style="normal" text-anchor="middle" fill="#000">T6</text>
<text x="300.9" y="506.8" font-size="12.4" font-weight="bold" font-style="normal" text-anchor="middle" fill="#000">PQ</text>
<line x1="364.2" y1="329.5" x2="382" y2="329.5" stroke="#0000FF" stroke-width="2" stroke-linecap="butt"/>
<circle cx="373.1" cy="329.5" r="4.9" fill="#0000FF"/>
<text stroke="#000" stroke-width="0.3" x="392.6" y="333.85" font-size="13.3" font-weight="normal" font-style="italic" text-anchor="start" fill="#000" textLength="83.99" lengthAdjust="spacingAndGlyphs">Kazachstania</text>
<line x1="364.2" y1="352.8" x2="382" y2="352.8" stroke="#FF0000" stroke-width="2" stroke-linecap="butt"/>
<rect x="368.1" y="347.7" width="10" height="10.2" fill="#FF0000"/>
<text stroke="#000" stroke-width="0.3" x="392.6" y="357.4" font-size="13.3" font-weight="normal" font-style="italic" text-anchor="start" fill="#000" textLength="97.3" lengthAdjust="spacingAndGlyphs">Kluyveromyces</text>
<line x1="364.2" y1="376.1" x2="382" y2="376.1" stroke="#00C814" stroke-width="2" stroke-linecap="butt"/>
<polygon points="373.1,371.2 378.4,381 367.8,381" fill="#00C814"/>
<text stroke="#000" stroke-width="0.3" x="392.6" y="381.2" font-size="13.3" font-weight="normal" font-style="italic" text-anchor="start" fill="#000" textLength="102.38" lengthAdjust="spacingAndGlyphs">Saccharomyces</text>
<line x1="364.2" y1="399.4" x2="382" y2="399.4" stroke="#C606F8" stroke-width="2" stroke-linecap="butt"/>
<polygon points="368.1,394.9 378.1,394.9 373.1,403.9" fill="#C606F8"/>
<text stroke="#000" stroke-width="0.3" x="392.6" y="404.4" font-size="13.3" font-weight="normal" font-style="italic" text-anchor="start" fill="#000" textLength="94.25" lengthAdjust="spacingAndGlyphs">Hanseniaspora</text>
<line x1="364.2" y1="422.7" x2="382" y2="422.7" stroke="#FF8000" stroke-width="2" stroke-linecap="butt"/>
<polygon points="373.1,417.7 378,422.7 373.1,427.7 368.2,422.7" fill="#FF8000"/>
<text stroke="#000" stroke-width="0.3" x="392.6" y="427.2" font-size="13.3" font-weight="normal" font-style="normal" text-anchor="start" fill="#000" textLength="139.2" lengthAdjust="spacingAndGlyphs">O_Saccharomycetales</text>
<line x1="364.2" y1="446" x2="382" y2="446" stroke="#000000" stroke-width="2" stroke-linecap="butt"/>
<circle cx="373.1" cy="446" r="5.5" fill="#000000"/>
<text stroke="#000" stroke-width="0.3" x="392.6" y="449.9" font-size="13.1" font-weight="normal" font-style="normal" text-anchor="start" fill="#000" textLength="39.61" lengthAdjust="spacingAndGlyphs">Others</text>
</svg>
</body>
</html>
